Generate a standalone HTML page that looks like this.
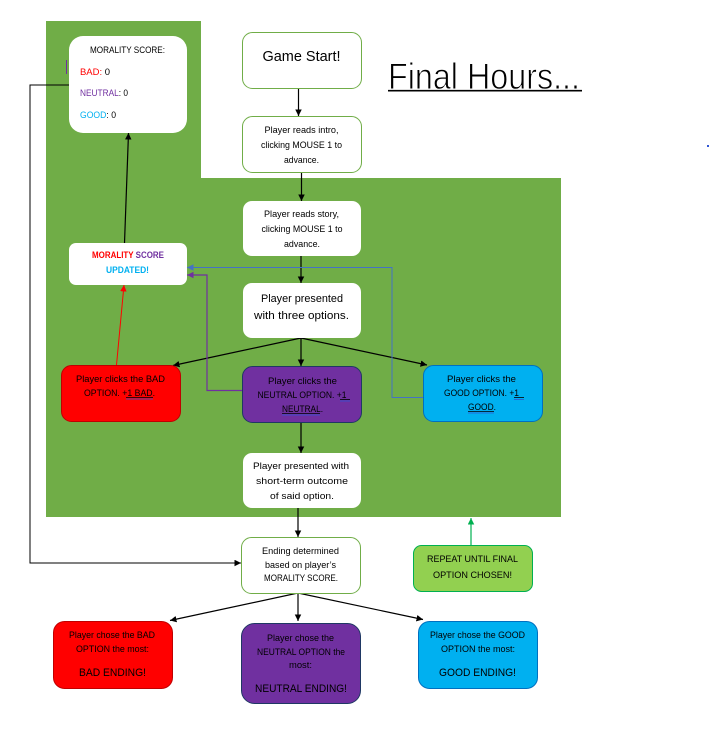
<!DOCTYPE html>
<html><head><meta charset="utf-8"><style>
html,body{margin:0;padding:0;background:#fff;width:709px;height:733px;overflow:hidden}
svg{display:block}
text{font-family:"Liberation Sans",sans-serif;font-size:9px;fill:#000;text-anchor:middle}
.l{text-anchor:start}
.b{font-size:11px}
</style></head><body>
<svg width="709" height="733" viewBox="0 0 709 733" xmlns="http://www.w3.org/2000/svg">
<defs>
<marker id="k" markerUnits="userSpaceOnUse" markerWidth="7" markerHeight="7" refX="6.5" refY="3.25" orient="auto"><path d="M0 0L6.5 3.25L0 6.5Z" fill="#000"/></marker>
<marker id="r" markerUnits="userSpaceOnUse" markerWidth="7" markerHeight="7" refX="6.5" refY="3.25" orient="auto"><path d="M0 0L6.5 3.25L0 6.5Z" fill="#f00"/></marker>
<marker id="p" markerUnits="userSpaceOnUse" markerWidth="7" markerHeight="7" refX="6.5" refY="3.25" orient="auto"><path d="M0 0L6.5 3.25L0 6.5Z" fill="#7030a0"/></marker>
<marker id="u" markerUnits="userSpaceOnUse" markerWidth="7" markerHeight="7" refX="6.5" refY="3.25" orient="auto"><path d="M0 0L6.5 3.25L0 6.5Z" fill="#4472c4"/></marker>
<marker id="g" markerUnits="userSpaceOnUse" markerWidth="7" markerHeight="7" refX="6.5" refY="3.25" orient="auto"><path d="M0 0L6.5 3.25L0 6.5Z" fill="#00b050"/></marker>
</defs>

<polygon points="46,21 201,21 201,178 561,178 561,517 46,517" fill="#70ad47"/>

<!-- connectors -->
<g fill="none" stroke="#000" stroke-width="1.2">
<path d="M298.5 88V116" marker-end="url(#k)"/>
<path d="M301.5 173V201" marker-end="url(#k)"/>
<path d="M301 256V283" marker-end="url(#k)"/>
<path d="M301 338V366" marker-end="url(#k)"/>
<path d="M301 338L173 365.5" marker-end="url(#k)"/>
<path d="M301 338L427 365" marker-end="url(#k)"/>
<path d="M301 423V453" marker-end="url(#k)"/>
<path d="M298 508V537" marker-end="url(#k)"/>
<path d="M298 593V621" marker-end="url(#k)"/>
<path d="M298 593L170 620.5" marker-end="url(#k)"/>
<path d="M298 593L423 619.5" marker-end="url(#k)"/>
<path d="M69 85H30V563H241" stroke-width="1" marker-end="url(#k)"/>
<path d="M124.5 243L128.5 133" marker-end="url(#k)"/>
</g>
<path d="M116.5 365L124 285" fill="none" stroke="#f00" stroke-width="1" marker-end="url(#r)"/>
<path d="M242 390.5H207V275H187" fill="none" stroke="#7030a0" stroke-width="1.2" marker-end="url(#p)"/>
<path d="M423 397.5H392V267.5H187" fill="none" stroke="#4472c4" stroke-width="1" marker-end="url(#u)"/>
<path d="M471 545V518" fill="none" stroke="#00b050" stroke-width="1.2" marker-end="url(#g)"/>
<path d="M66.5 60V74" stroke="#7030a0" stroke-width="1"/>
<rect x="707" y="145" width="2" height="2" fill="#2f55d4"/>

<!-- boxes -->
<rect x="69" y="36" width="118" height="97" rx="14" fill="#fff"/>
<rect x="242.5" y="32.5" width="119" height="56" rx="10" fill="#fff" stroke="#70ad47"/>
<rect x="242.5" y="116.5" width="119" height="56" rx="10" fill="#fff" stroke="#70ad47"/>
<rect x="243" y="201" width="118" height="55" rx="9" fill="#fff"/>
<rect x="243" y="283" width="118" height="55" rx="9" fill="#fff"/>
<rect x="69" y="243" width="118" height="42" rx="7" fill="#fff"/>
<rect x="61.5" y="365.5" width="119" height="56" rx="10" fill="#f00" stroke="#c00000"/>
<rect x="242.5" y="366.5" width="119" height="56" rx="10" fill="#7030a0" stroke="#1f3864"/>
<rect x="423.5" y="365.5" width="119" height="56" rx="10" fill="#00b0f0" stroke="#0070c0"/>
<rect x="243" y="453" width="118" height="55" rx="9" fill="#fff"/>
<rect x="241.5" y="537.5" width="119" height="56" rx="10" fill="#fff" stroke="#70ad47"/>
<rect x="413.5" y="545.5" width="119" height="46" rx="8" fill="#92d050" stroke="#00b050"/>
<rect x="53.5" y="621.5" width="119" height="67" rx="11" fill="#f00" stroke="#c00000"/>
<rect x="241.5" y="623.5" width="119" height="80" rx="13" fill="#7030a0" stroke="#1f3864"/>
<rect x="418.5" y="621.5" width="119" height="67" rx="11" fill="#00b0f0" stroke="#0070c0"/>

<!-- title -->
<text class="l" x="388" y="89" style="font-size:37px;fill:#000;stroke:#fff;stroke-width:.9px" textLength="192" lengthAdjust="spacingAndGlyphs">Final Hours...</text>
<path d="M388 90.7H582" stroke="#000" stroke-width="1.6"/>

<!-- morality score -->
<text x="127.5" y="53" textLength="75" lengthAdjust="spacingAndGlyphs">MORALITY SCORE:</text>
<text class="l" x="80" y="75" textLength="30" lengthAdjust="spacingAndGlyphs"><tspan style="fill:#f00">BAD:</tspan>  0</text>
<text class="l" x="80" y="96" textLength="48" lengthAdjust="spacingAndGlyphs"><tspan style="fill:#7030a0">NEUTRAL</tspan>: 0</text>
<text class="l" x="80" y="118" textLength="36" lengthAdjust="spacingAndGlyphs"><tspan style="fill:#00b0f0">GOOD</tspan>: 0</text>

<text x="301.5" y="61" style="font-size:15px" textLength="78" lengthAdjust="spacingAndGlyphs">Game Start!</text>

<text x="301.5" y="133" textLength="74" lengthAdjust="spacingAndGlyphs">Player reads intro,</text>
<text x="301.5" y="148" textLength="81" lengthAdjust="spacingAndGlyphs">clicking MOUSE 1 to</text>
<text x="301.5" y="163" textLength="35" lengthAdjust="spacingAndGlyphs">advance.</text>

<text x="301.5" y="217" textLength="75" lengthAdjust="spacingAndGlyphs">Player reads story,</text>
<text x="302" y="232" textLength="81" lengthAdjust="spacingAndGlyphs">clicking MOUSE 1 to</text>
<text x="302" y="247" textLength="36" lengthAdjust="spacingAndGlyphs">advance.</text>

<text x="128" y="258" textLength="72" lengthAdjust="spacingAndGlyphs" font-weight="bold"><tspan style="fill:#f00">MORALITY </tspan><tspan style="fill:#7030a0">SCORE</tspan></text>
<text x="127.5" y="273" textLength="43" lengthAdjust="spacingAndGlyphs" font-weight="bold" style="fill:#00b0f0">UPDATED!</text>

<text class="b" x="302" y="302" textLength="82" lengthAdjust="spacingAndGlyphs">Player presented</text>
<text class="b" x="301.5" y="319" textLength="95" lengthAdjust="spacingAndGlyphs">with three options.</text>

<text x="120.5" y="382" textLength="89" lengthAdjust="spacingAndGlyphs">Player clicks the BAD</text>
<text x="119.5" y="396" textLength="71" lengthAdjust="spacingAndGlyphs">OPTION. +1  BAD.</text>
<path d="M126 397.5H153" stroke="#000" stroke-width=".8"/><path d="M126 399H153" stroke="#2f55d4" stroke-width=".8"/>

<text x="302.5" y="384" textLength="69" lengthAdjust="spacingAndGlyphs">Player clicks the</text>
<text x="302" y="398" textLength="89" lengthAdjust="spacingAndGlyphs">NEUTRAL OPTION. +1</text>
<text x="302.5" y="412" textLength="41" lengthAdjust="spacingAndGlyphs">NEUTRAL.</text>
<path d="M282 413.5H320" stroke="#000" stroke-width=".8"/><path d="M282 415H320" stroke="#2f55d4" stroke-width=".8"/>
<path d="M340 399.5H350" stroke="#000" stroke-width=".8"/><path d="M340 401H350" stroke="#2f55d4" stroke-width=".8"/>

<text x="481.5" y="382" textLength="69" lengthAdjust="spacingAndGlyphs">Player clicks the</text>
<text x="481.5" y="396" textLength="75" lengthAdjust="spacingAndGlyphs">GOOD OPTION. +1</text>
<text x="482" y="410" textLength="28" lengthAdjust="spacingAndGlyphs">GOOD.</text>
<path d="M514 397.5H524" stroke="#000" stroke-width=".8"/><path d="M514 399.5H524" stroke="#2f55d4" stroke-width=".8"/>
<path d="M468 411.5H494" stroke="#000" stroke-width=".8"/><path d="M468 413H494" stroke="#2f55d4" stroke-width=".8"/>

<text x="301" y="469" textLength="96" lengthAdjust="spacingAndGlyphs">Player presented with</text>
<text x="302" y="484" textLength="92" lengthAdjust="spacingAndGlyphs">short-term outcome</text>
<text x="302" y="499" textLength="64" lengthAdjust="spacingAndGlyphs">of said option.</text>

<text x="300.5" y="554" textLength="77" lengthAdjust="spacingAndGlyphs">Ending determined</text>
<text x="300.5" y="568" textLength="71" lengthAdjust="spacingAndGlyphs">based on player’s</text>
<text x="301" y="581" textLength="74" lengthAdjust="spacingAndGlyphs">MORALITY SCORE.</text>

<text x="472.5" y="562" textLength="91" lengthAdjust="spacingAndGlyphs">REPEAT UNTIL FINAL</text>
<text x="472.5" y="578" textLength="79" lengthAdjust="spacingAndGlyphs">OPTION CHOSEN!</text>

<text x="112" y="638" textLength="86" lengthAdjust="spacingAndGlyphs">Player chose the BAD</text>
<text x="112.5" y="652" textLength="73" lengthAdjust="spacingAndGlyphs">OPTION the most:</text>
<text class="b" x="112.5" y="676" textLength="67" lengthAdjust="spacingAndGlyphs">BAD ENDING!</text>

<text x="300.5" y="641" textLength="67" lengthAdjust="spacingAndGlyphs">Player chose the</text>
<text x="301" y="655" textLength="88" lengthAdjust="spacingAndGlyphs">NEUTRAL OPTION the</text>
<text x="300.5" y="668" textLength="23" lengthAdjust="spacingAndGlyphs">most:</text>
<text class="b" x="301" y="692" textLength="92" lengthAdjust="spacingAndGlyphs">NEUTRAL ENDING!</text>

<text x="477.5" y="638" textLength="95" lengthAdjust="spacingAndGlyphs">Player chose the GOOD</text>
<text x="478" y="652" textLength="74" lengthAdjust="spacingAndGlyphs">OPTION the most:</text>
<text class="b" x="477.5" y="676" textLength="77" lengthAdjust="spacingAndGlyphs">GOOD ENDING!</text>
</svg>
</body></html>
